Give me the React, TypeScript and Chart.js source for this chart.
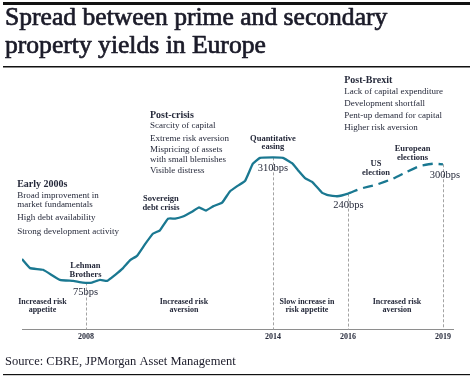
import { useEffect, useRef } from "react";
import { Chart, registerables } from "chart.js";

Chart.register(...registerables);

const FONT = '"Liberation Serif", "Times New Roman", serif';
const INK = "#262a3b";
const LINE = "#1a7891";

// x values are in years on a linear axis, y values in basis points
const years = [
  2006.0, 2006.25, 2006.65, 2007.17, 2007.58, 2007.88, 2008.16, 2008.41, 2008.63, 2008.87,
  2009.12, 2009.34, 2009.55, 2009.8, 2010.05, 2010.26, 2010.51, 2010.73, 2010.97, 2011.25,
  2011.47, 2011.68, 2011.9, 2012.18, 2012.42, 2012.67, 2012.89, 2013.13, 2013.35, 2013.75,
  2014.06, 2014.34, 2014.52, 2014.74, 2014.96, 2015.26, 2015.45, 2015.73, 2016.07, 2016.44,
  2016.96, 2017.46, 2017.89, 2018.29, 2018.69, 2019.0,
];
const spreadBps = [
  119, 102, 99, 80, 78, 75, 75, 80, 78, 89,
  102, 117, 125, 147, 167, 173, 195, 195, 199, 208,
  216, 210, 218, 225, 246, 257, 266, 298, 309, 310,
  309, 299, 286, 271, 264, 244, 239, 237, 242, 251,
  259, 270, 283, 294, 298, 297,
];
const forecastFrom = 2016.07;

const tickYears = [2007.98, 2013.75, 2016.07, 2019.0];
const tickLabels = ["2008", "2014", "2016", "2019"];

const titleLines = ["Spread between prime and secondary", "property yields in Europe"];
const sourceText = "Source: CBRE, JPMorgan Asset Management";

type Note = { t: string; x: number; y: number; kind: "head" | "body" | "event" | "regime" | "value"; align?: CanvasTextAlign };

const phaseNotes: Note[] = [
  { t: "Early 2000s", x: 2005.85, y: 259, kind: "head", align: "left" },
  { t: "Broad improvement in", x: 2005.85, y: 239, kind: "body", align: "left" },
  { t: "market fundamentals", x: 2005.85, y: 222, kind: "body", align: "left" },
  { t: "High debt availability", x: 2005.85, y: 197, kind: "body", align: "left" },
  { t: "Strong development activity", x: 2005.85, y: 171, kind: "body", align: "left" },
  { t: "Post-crisis", x: 2009.95, y: 388, kind: "head", align: "left" },
  { t: "Scarcity of capital", x: 2009.95, y: 369, kind: "body", align: "left" },
  { t: "Extreme risk aversion", x: 2009.95, y: 346, kind: "body", align: "left" },
  { t: "Mispricing of assets", x: 2009.95, y: 324, kind: "body", align: "left" },
  { t: "with small blemishes", x: 2009.95, y: 306, kind: "body", align: "left" },
  { t: "Visible distress", x: 2009.95, y: 285, kind: "body", align: "left" },
  { t: "Post-Brexit", x: 2015.95, y: 454, kind: "head", align: "left" },
  { t: "Lack of capital expenditure", x: 2015.95, y: 433, kind: "body", align: "left" },
  { t: "Development shortfall", x: 2015.95, y: 411, kind: "body", align: "left" },
  { t: "Pent-up demand for capital", x: 2015.95, y: 389, kind: "body", align: "left" },
  { t: "Higher risk aversion", x: 2015.95, y: 365, kind: "body", align: "left" },
];

const eventNotes: Note[] = [
  { t: "Lehman", x: 2007.96, y: 106, kind: "event" },
  { t: "Brothers", x: 2007.96, y: 89, kind: "event" },
  { t: "Sovereign", x: 2010.29, y: 233, kind: "event" },
  { t: "debt crisis", x: 2010.29, y: 216, kind: "event" },
  { t: "Quantitative", x: 2013.75, y: 345, kind: "event" },
  { t: "easing", x: 2013.75, y: 329, kind: "event" },
  { t: "US", x: 2016.93, y: 298, kind: "event" },
  { t: "election", x: 2016.93, y: 281, kind: "event" },
  { t: "European", x: 2018.06, y: 326, kind: "event" },
  { t: "elections", x: 2018.06, y: 309, kind: "event" },
];

const regimeNotes: Note[] = [
  { t: "Increased risk", x: 2006.63, y: 39, kind: "regime" },
  { t: "appetite", x: 2006.63, y: 24, kind: "regime" },
  { t: "Increased risk", x: 2011.0, y: 39, kind: "regime" },
  { t: "aversion", x: 2011.0, y: 24, kind: "regime" },
  { t: "Slow increase in", x: 2014.8, y: 39, kind: "regime" },
  { t: "risk appetite", x: 2014.8, y: 24, kind: "regime" },
  { t: "Increased risk", x: 2017.58, y: 39, kind: "regime" },
  { t: "aversion", x: 2017.58, y: 24, kind: "regime" },
];

const valueNotes: Note[] = [
  { t: "75bps", x: 2007.96, y: 56, kind: "value" },
  { t: "310bps", x: 2013.75, y: 290, kind: "value" },
  { t: "240bps", x: 2016.08, y: 220, kind: "value" },
  { t: "300bps", x: 2019.06, y: 277, kind: "value" },
];

const fontFor = (k: Note["kind"]) => {
  switch (k) {
    case "head":
      return `bold 10px ${FONT}`;
    case "body":
      return `9px ${FONT}`;
    case "event":
      return `bold 8.5px ${FONT}`;
    case "regime":
      return `bold 8px ${FONT}`;
    default:
      return `10.5px ${FONT}`;
  }
};

const valueAt = (x: number) => {
  for (let i = 0; i < years.length - 1; i++) {
    if (x >= years[i] && x <= years[i + 1]) {
      const f = (x - years[i]) / (years[i + 1] - years[i]);
      return spreadBps[i] + f * (spreadBps[i + 1] - spreadBps[i]);
    }
  }
  return spreadBps[spreadBps.length - 1];
};

const decor = {
  id: "decor",
  beforeDatasetsDraw(chart: any) {
    const { ctx, chartArea, scales } = chart;
    ctx.save();
    ctx.strokeStyle = "#a3a3a3";
    ctx.lineWidth = 1;
    ctx.setLineDash([3, 2]);
    tickYears.forEach((t) => {
      const px = Math.round(scales.x.getPixelForValue(t)) + 0.5;
      const top = scales.y.getPixelForValue(valueAt(t));
      ctx.beginPath();
      ctx.moveTo(px, top);
      ctx.lineTo(px, chartArea.bottom);
      ctx.stroke();
    });
    ctx.restore();
  },
  afterDraw(chart: any) {
    const { ctx, scales } = chart;
    ctx.save();
    // header rules
    ctx.fillStyle = "#111";
    ctx.fillRect(3, 2, 467, 3);
    ctx.fillRect(3, 66, 467, 1.5);
    ctx.fillRect(3, 374, 467, 1.2);
    // title (regular weight thickened slightly)
    ctx.fillStyle = "#1b1b29";
    ctx.strokeStyle = "#1b1b29";
    ctx.lineWidth = 0.7;
    ctx.lineJoin = "round";
    ctx.font = `25.6px ${FONT}`;
    ctx.textAlign = "left";
    ctx.textBaseline = "alphabetic";
    titleLines.forEach((l, i) => {
      ctx.fillText(l, 5, 25 + i * 28);
      ctx.strokeText(l, 5, 25 + i * 28);
    });
    // source
    ctx.font = `12.5px ${FONT}`;
    ctx.textBaseline = "middle";
    ctx.fillText(sourceText, 5, 362);
    // notes
    ctx.fillStyle = INK;
    [...phaseNotes, ...eventNotes, ...regimeNotes, ...valueNotes].forEach((n) => {
      ctx.font = fontFor(n.kind);
      ctx.textAlign = n.align || "center";
      ctx.textBaseline = "middle";
      ctx.fillText(n.t, scales.x.getPixelForValue(n.x), scales.y.getPixelForValue(n.y));
    });
    ctx.restore();
  },
};

export default function App() {
  const ref = useRef<HTMLCanvasElement | null>(null);
  useEffect(() => {
    if (!ref.current) return;
    const chart = new Chart(ref.current, {
      type: "line",
      data: {
        datasets: [
          {
            data: years.map((x, i) => ({ x, y: spreadBps[i] })),
            borderColor: LINE,
            borderWidth: 2.3,
            pointRadius: 0,
            tension: 0.1,
            fill: false,
            segment: {
              borderDash: (c: any) => (c.p0.parsed.x >= forecastFrom - 1e-6 ? [10, 6] : undefined),
            },
          },
        ],
      },
      options: {
        responsive: false,
        devicePixelRatio: 1,
        animation: false,
        events: [],
        layout: { padding: { left: 22, right: 20, top: 70, bottom: 32 } },
        plugins: { legend: { display: false }, tooltip: { enabled: false } },
        scales: {
          x: {
            type: "linear",
            min: 2006,
            max: 2019.31,
            afterBuildTicks: (s: any) => {
              s.ticks = tickYears.map((v) => ({ value: v }));
            },
            grid: { display: false, drawTicks: false },
            border: { display: true, color: "#8e8e8e", width: 1 },
            ticks: {
              autoSkip: false,
              maxRotation: 0,
              padding: 3,
              color: INK,
              font: { family: FONT, size: 8, weight: "bold" },
              callback: (_v: any, i: number) => tickLabels[i],
            },
          },
          y: { display: false, min: -13, max: 474 },
        },
      },
      plugins: [decor],
    });
    return () => chart.destroy();
  }, []);
  return (
    <div style={{ position: "absolute", left: 0, top: 0, width: 473, height: 377, background: "#fff" }}>
      <canvas ref={ref} width={473} height={377} style={{ display: "block" }} />
    </div>
  );
}
